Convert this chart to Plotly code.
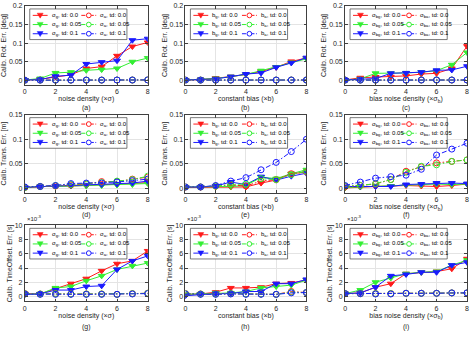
import plotly.graph_objects as go

W, H = 474, 339

x_vals = [0, 1, 2, 3, 4, 5, 6, 7, 8]
x_ticks = [0, 2, 4, 6, 8]

# (a) rotation error vs noise density [deg]
a_g00 = [0.001, 0.003, 0.009, 0.015, 0.032, 0.037, 0.066, 0.091, 0.102]
a_g05 = [0.001, 0.005, 0.020, 0.022, 0.027, 0.029, 0.032, 0.050, 0.060]
a_g10 = [0.001, 0.002, 0.011, 0.014, 0.044, 0.049, 0.053, 0.108, 0.112]
a_a00 = [0.0005, 0.0008, 0.0008, 0.0008, 0.0008, 0.0008, 0.001, 0.001, 0.0012]
a_a05 = [0.0005, 0.0008, 0.0008, 0.0008, 0.0009, 0.0009, 0.001, 0.001, 0.0012]
a_a10 = [0.0005, 0.0007, 0.0007, 0.0008, 0.0008, 0.0008, 0.001, 0.001, 0.0012]
# (b) rotation error vs constant bias [deg]
b_g00 = [0.001, 0.002, 0.006, 0.010, 0.016, 0.024, 0.035, 0.051, 0.060]
b_g05 = [0.001, 0.002, 0.005, 0.010, 0.016, 0.026, 0.036, 0.048, 0.058]
b_g10 = [0.001, 0.002, 0.004, 0.010, 0.017, 0.020, 0.035, 0.047, 0.061]
b_a00 = [0.0008, 0.0008, 0.0008, 0.0008, 0.0008, 0.0009, 0.0009, 0.001, 0.001]
b_a05 = [0.0008, 0.0008, 0.0008, 0.0008, 0.0008, 0.0009, 0.0009, 0.001, 0.001]
b_a10 = [0.0008, 0.0008, 0.0008, 0.0008, 0.0008, 0.0009, 0.0009, 0.001, 0.001]
# (c) rotation error vs bias noise density [deg]
c_g00 = [0.001, 0.007, 0.009, 0.010, 0.012, 0.017, 0.019, 0.032, 0.092]
c_g05 = [0.001, 0.004, 0.019, 0.019, 0.020, 0.022, 0.026, 0.042, 0.075]
c_g10 = [0.001, 0.003, 0.005, 0.019, 0.020, 0.022, 0.027, 0.028, 0.038]
c_a00 = [0.0008, 0.0008, 0.0008, 0.0008, 0.0008, 0.001, 0.001, 0.001, 0.001]
c_a05 = [0.0008, 0.0008, 0.0008, 0.0008, 0.0008, 0.001, 0.001, 0.001, 0.001]
c_a10 = [0.0008, 0.0008, 0.0008, 0.0008, 0.0008, 0.001, 0.001, 0.001, 0.001]
# (d) translation error vs noise density [m]
d_g00 = [0.002, 0.004, 0.005, 0.005, 0.006, 0.007, 0.008, 0.010, 0.012]
d_g05 = [0.002, 0.004, 0.004, 0.005, 0.005, 0.006, 0.007, 0.008, 0.010]
d_g10 = [0.002, 0.004, 0.005, 0.006, 0.007, 0.008, 0.009, 0.011, 0.015]
d_a00 = [0.002, 0.004, 0.005, 0.007, 0.009, 0.014, 0.014, 0.019, 0.023]
d_a05 = [0.002, 0.004, 0.006, 0.008, 0.009, 0.012, 0.015, 0.018, 0.025]
d_a10 = [0.003, 0.004, 0.006, 0.010, 0.011, 0.011, 0.013, 0.016, 0.019]
# (e) translation error vs constant bias [m]
e_g00 = [0.002, 0.002, 0.003, 0.003, 0.003, 0.011, 0.017, 0.030, 0.033]
e_g05 = [0.003, 0.003, 0.004, 0.004, 0.006, 0.023, 0.020, 0.030, 0.038]
e_g10 = [0.003, 0.003, 0.005, 0.013, 0.008, 0.024, 0.017, 0.025, 0.031]
e_a00 = [0.003, 0.003, 0.005, 0.007, 0.005, 0.015, 0.018, 0.030, 0.034]
e_a05 = [0.003, 0.003, 0.005, 0.008, 0.009, 0.020, 0.018, 0.028, 0.035]
e_a10 = [0.003, 0.003, 0.006, 0.015, 0.022, 0.038, 0.053, 0.075, 0.100]
# (f) translation error vs bias noise density [m]
f_g00 = [0.001, 0.003, 0.004, 0.005, 0.006, 0.005, 0.004, 0.006, 0.009]
f_g05 = [0.002, 0.003, 0.005, 0.005, 0.007, 0.007, 0.009, 0.008, 0.009]
f_g10 = [0.004, 0.004, 0.004, 0.004, 0.008, 0.009, 0.011, 0.011, 0.010]
f_a00 = [0.004, 0.006, 0.009, 0.018, 0.035, 0.044, 0.052, 0.055, 0.058]
f_a05 = [0.005, 0.006, 0.010, 0.018, 0.033, 0.045, 0.048, 0.055, 0.058]
f_a10 = [0.006, 0.013, 0.021, 0.024, 0.027, 0.039, 0.068, 0.080, 0.092]
# (g) time offset error vs noise density [x1e-3 s]
g_g00 = [0.4, 0.35, 1.1, 1.8, 2.5, 3.6, 4.6, 5.0, 6.4]
g_g05 = [0.3, 0.35, 1.2, 1.4, 2.2, 2.9, 3.8, 4.3, 4.7]
g_g10 = [0.3, 0.35, 0.9, 0.9, 1.4, 1.5, 3.8, 5.0, 5.7]
g_a00 = [0.4, 0.35, 0.4, 0.35, 0.35, 0.35, 0.3, 0.4, 0.45]
g_a05 = [0.4, 0.35, 0.4, 0.35, 0.35, 0.35, 0.3, 0.4, 0.45]
g_a10 = [0.35, 0.3, 0.3, 0.3, 0.3, 0.3, 0.3, 0.35, 0.4]
# (h) time offset error vs constant bias [x1e-3 s]
h_g00 = [0.3, 0.35, 0.6, 1.2, 1.2, 1.3, 1.8, 1.9, 2.3]
h_g05 = [0.3, 0.35, 0.5, 0.5, 0.7, 1.2, 1.4, 1.6, 2.3]
h_g10 = [0.1, 0.3, 0.4, 0.4, 0.7, 0.7, 1.8, 1.8, 2.4]
h_a00 = [0.4, 0.35, 0.35, 0.4, 0.35, 0.35, 0.3, 0.7, 0.55]
h_a05 = [0.4, 0.35, 0.35, 0.4, 0.35, 0.35, 0.3, 0.6, 0.55]
h_a10 = [0.35, 0.3, 0.3, 0.35, 0.3, 0.3, 0.3, 0.5, 0.55]
# (i) time offset error vs bias noise density [x1e-3 s]
i_g00 = [0.4, 0.5, 1.3, 1.8, 3.2, 3.4, 3.5, 3.9, 5.3]
i_g05 = [0.4, 0.9, 2.0, 2.6, 3.2, 3.4, 3.5, 4.4, 5.1]
i_g10 = [0.4, 0.5, 1.3, 2.9, 3.1, 3.4, 3.4, 4.4, 4.8]
i_a00 = [0.4, 0.4, 0.4, 0.4, 0.45, 0.45, 0.45, 0.5, 0.5]
i_a05 = [0.4, 0.4, 0.4, 0.4, 0.45, 0.45, 0.45, 0.5, 0.5]
i_a10 = [0.4, 0.4, 0.35, 0.35, 0.45, 0.45, 0.45, 0.5, 0.5]

panel_data = [
    [a_g00, a_g05, a_g10, a_a00, a_a05, a_a10],
    [b_g00, b_g05, b_g10, b_a00, b_a05, b_a10],
    [c_g00, c_g05, c_g10, c_a00, c_a05, c_a10],
    [d_g00, d_g05, d_g10, d_a00, d_a05, d_a10],
    [e_g00, e_g05, e_g10, e_a00, e_a05, e_a10],
    [f_g00, f_g05, f_g10, f_a00, f_a05, f_a10],
    [g_g00, g_g05, g_g10, g_a00, g_a05, g_a10],
    [h_g00, h_g05, h_g10, h_a00, h_a05, h_a10],
    [i_g00, i_g05, i_g10, i_a00, i_a05, i_a10],
]
panel_labels = ["(a)", "(b)", "(c)", "(d)", "(e)", "(f)", "(g)", "(h)", "(i)"]
td_labels = ["0.0", "0.05", "0.1"]
col_symbols = [("σ<sub>g</sub>", "σ<sub>a</sub>"),
               ("b<sub>g</sub>", "b<sub>a</sub>"),
               ("σ<sub>bg</sub>", "σ<sub>ba</sub>")]
x_titles = ["noise density (×σ)", "constant bias (×b)", "bias noise density (×σ<sub>b</sub>)"]
y_titles = ["Calib. Rot. Err. [deg]", "Calib. Trans. Err. [m]", "Calib. TimeOffset. Err. [s]"]
y_ranges = [[-0.0125, 0.2], [-0.0087, 0.15], [-0.7, 10]]
y_tickvals = [[0, 0.05, 0.1, 0.15, 0.2], [0, 0.05, 0.1, 0.15], [0, 2, 4, 6, 8, 10]]
y_ticktext = [["0", "0.05", "0.1", "0.15", "0.2"], ["0", "0.05", "0.1", "0.15"],
              ["0", "2", "4", "6", "8", "10"]]

colors = ["#ff1a1a", "#33ee33", "#1a1aff"]

# layout geometry (pixels)
col_px = [(23, 147), (185, 307), (346, 469)]
row_px = [(2, 82), (112, 191), (224, 301)]
label_y_px = [105, 214, 327]


def px(x):
    return x / W


def py(y):
    return 1 - y / H


FONT = "Liberation Sans, Arial, sans-serif"
fig = go.Figure()
layout = dict(
    width=W, height=H, margin=dict(l=0, r=0, t=0, b=0),
    paper_bgcolor="white", plot_bgcolor="white", showlegend=False,
    font=dict(family=FONT, size=7, color="#262626"),
)
shapes = []
annotations = []

for k in range(9):
    r, c = divmod(k, 3)
    ax = "" if k == 0 else str(k + 1)
    xa, ya = "x" + ax, "y" + ax
    data = panel_data[k]
    for j in range(6):
        is_acc = j >= 3
        fig.add_trace(go.Scatter(
            x=x_vals, y=data[j], xaxis=xa, yaxis=ya, mode="lines+markers",
            line=dict(color=colors[j % 3], width=1,
                      dash="5px,2px,1.5px,2px" if is_acc else "solid"),
            marker=dict(symbol="circle-open" if is_acc else "triangle-down",
                        size=6, color=colors[j % 3],
                        line=dict(width=1, color=colors[j % 3])),
            name=(col_symbols[c][1] if is_acc else col_symbols[c][0]) + ", td: " + td_labels[j % 3],
        ))
    L, R = col_px[c]
    T, B = row_px[r]
    common = dict(showline=True, mirror="ticks", linecolor="#404040", linewidth=0.8,
                  ticks="inside", ticklen=3, tickwidth=0.6, tickcolor="#404040",
                  showgrid=True, gridcolor="#e4e4e4", gridwidth=0.6, zeroline=False,
                  tickfont=dict(size=7, color="#262626", family=FONT))
    layout["xaxis" + ax] = dict(
        common, domain=[px(L), px(R)], anchor=ya, range=[0, 8], tickvals=x_ticks,
        title=dict(text=x_titles[c], font=dict(size=7, color="#262626"), standoff=0))
    layout["yaxis" + ax] = dict(
        common, domain=[py(B), py(T)], anchor=xa, range=y_ranges[r],
        tickvals=y_tickvals[r], ticktext=y_ticktext[r],
        title=dict(text=y_titles[r], font=dict(size=7, color="#262626"), standoff=1))

    annotations.append(dict(text=panel_labels[k], x=px((L + R) / 2), y=py(label_y_px[r]),
                            xref="paper", yref="paper", showarrow=False,
                            font=dict(size=7, color="#262626"),
                            xanchor="center", yanchor="middle"))
    if r == 2:
        annotations.append(dict(text="×10<sup>-3</sup>", x=px(L), y=py(T - 1),
                                xref="paper", yref="paper", showarrow=False,
                                font=dict(size=6, color="#262626"),
                                xanchor="left", yanchor="bottom"))

    # legend box (two columns)
    bl, bt = L + 5, T + 3
    bw, bh = 98, 31
    shapes.append(dict(type="rect", xref="paper", yref="paper", layer="above",
                       x0=px(bl), x1=px(bl + bw), y0=py(bt + bh), y1=py(bt),
                       fillcolor="white", line=dict(color="#404040", width=0.7)))
    for j in range(6):
        colj = j // 3
        rowj = j % 3
        yc = bt + 6.5 + rowj * 9.3
        lx0 = bl + 3 + colj * 49
        lx1 = lx0 + 15
        mx = (lx0 + lx1) / 2
        col = colors[rowj]
        shapes.append(dict(type="line", xref="paper", yref="paper", layer="above",
                           x0=px(lx0), x1=px(lx1), y0=py(yc), y1=py(yc),
                           line=dict(color=col, width=1,
                                     dash="4px,1.5px,1.5px,1.5px" if colj else "solid")))
        if colj == 0:
            path = "M{:.5f},{:.5f} L{:.5f},{:.5f} L{:.5f},{:.5f} Z".format(
                px(mx - 3), py(yc - 2.2), px(mx + 3), py(yc - 2.2), px(mx), py(yc + 2.8))
            shapes.append(dict(type="path", xref="paper", yref="paper", layer="above",
                               path=path, fillcolor=col, line=dict(color=col, width=0.5)))
        else:
            shapes.append(dict(type="circle", xref="paper", yref="paper", layer="above",
                               x0=px(mx - 2.4), x1=px(mx + 2.4), y0=py(yc + 2.4), y1=py(yc - 2.4),
                               fillcolor="white", line=dict(color=col, width=1)))
        sym = col_symbols[c][colj]
        annotations.append(dict(text=sym + ", td: " + td_labels[rowj],
                                x=px(lx1 + 2), y=py(yc), xref="paper", yref="paper",
                                showarrow=False, xanchor="left", yanchor="middle",
                                font=dict(size=6, color="#000000")))

layout["shapes"] = shapes
layout["annotations"] = annotations
fig.update_layout(**layout)
fig.write_html("out.html")
